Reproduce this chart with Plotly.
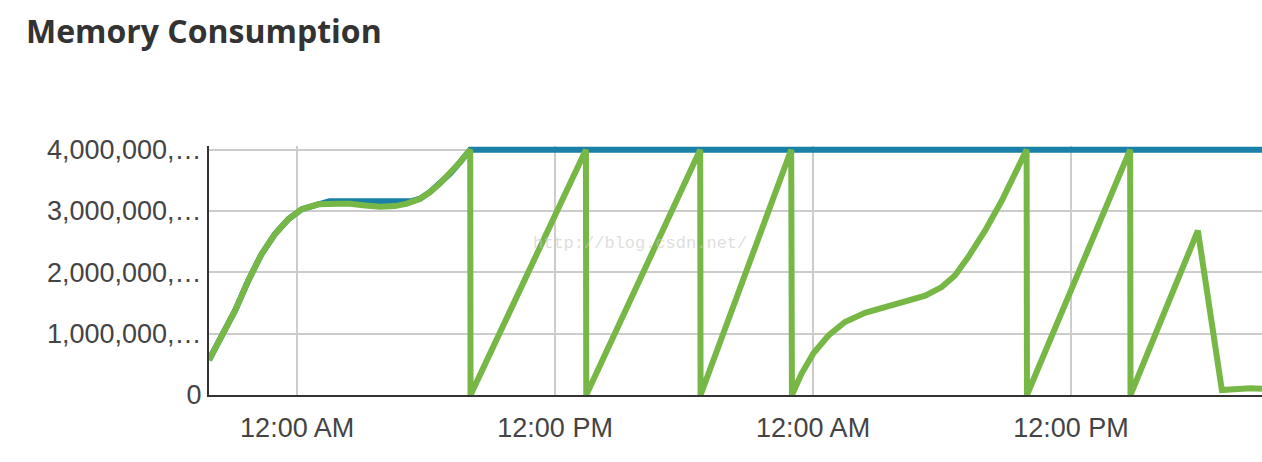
import plotly.graph_objects as go

# values (bytes), times on an arbitrary two-day window
green_times = [
    "2016-01-01 19:54", "2016-01-01 20:30", "2016-01-01 21:07", "2016-01-01 21:44",
    "2016-01-01 22:21", "2016-01-01 22:59", "2016-01-01 23:36", "2016-01-02 00:13",
    "2016-01-02 00:59", "2016-01-02 01:55", "2016-01-02 02:28", "2016-01-02 03:10",
    "2016-01-02 03:52", "2016-01-02 04:33", "2016-01-02 05:07", "2016-01-02 05:43",
    "2016-01-02 06:11", "2016-01-02 06:39", "2016-01-02 07:07", "2016-01-02 07:35",
    "2016-01-02 08:03",
    "2016-01-02 08:04", "2016-01-02 13:26",
    "2016-01-02 13:27", "2016-01-02 18:45",
    "2016-01-02 18:46", "2016-01-02 22:59",
    "2016-01-02 23:01", "2016-01-02 23:28", "2016-01-03 00:01", "2016-01-03 00:43",
    "2016-01-03 01:29", "2016-01-03 02:25", "2016-01-03 03:21", "2016-01-03 04:17",
    "2016-01-03 05:13", "2016-01-03 05:59", "2016-01-03 06:36", "2016-01-03 07:13",
    "2016-01-03 08:00", "2016-01-03 08:47", "2016-01-03 09:33", "2016-01-03 09:56",
    "2016-01-03 09:57", "2016-01-03 14:45",
    "2016-01-03 14:46", "2016-01-03 17:54", "2016-01-03 19:01", "2016-01-03 19:40",
    "2016-01-03 20:20", "2016-01-03 20:53",
]
green_values = [
    570000, 950000, 1380000, 1870000,
    2300000, 2630000, 2870000, 3030000,
    3110000, 3120000, 3120000, 3090000,
    3070000, 3080000, 3120000, 3200000,
    3310000, 3450000, 3610000, 3800000,
    4000000,
    0, 4000000,
    0, 4000000,
    0, 4000000,
    0, 350000, 680000, 970000,
    1190000, 1340000, 1430000, 1510000,
    1620000, 1760000, 1950000, 2250000,
    2680000, 3170000, 3710000, 4000000,
    0, 4000000,
    0, 2680000, 80000, 100000,
    110000, 100000,
]

blue_times = [
    "2016-01-01 19:54", "2016-01-01 20:30", "2016-01-01 21:07", "2016-01-01 21:44",
    "2016-01-01 22:21", "2016-01-01 22:59", "2016-01-01 23:36", "2016-01-02 00:13",
    "2016-01-02 00:59", "2016-01-02 01:30", "2016-01-02 05:20", "2016-01-02 05:43",
    "2016-01-02 06:11", "2016-01-02 06:39", "2016-01-02 07:07", "2016-01-02 07:35",
    "2016-01-02 08:03", "2016-01-03 20:53",
]
blue_values = [
    570000, 950000, 1380000, 1870000,
    2300000, 2630000, 2870000, 3030000,
    3110000, 3160000, 3160000, 3200000,
    3310000, 3450000, 3610000, 3800000,
    4000000, 4000000,
]

y_ticks = [0, 1000000, 2000000, 3000000, 4000000]
y_tick_text = ["0", "1,000,000,…", "2,000,000,…", "3,000,000,…", "4,000,000,…"]

fig = go.Figure()
fig.add_trace(go.Scatter(x=blue_times, y=blue_values, mode="lines",
                         line=dict(color="#1a80a8", width=6), showlegend=False))
fig.add_trace(go.Scatter(x=green_times, y=green_values, mode="lines",
                         line=dict(color="#77b745", width=6), showlegend=False))

fig.update_layout(
    width=1262, height=462,
    margin=dict(l=209, r=0, t=146, b=67, autoexpand=False),
    paper_bgcolor="white", plot_bgcolor="white",
    title=dict(text="Memory Consumption", x=26 / 1262, xanchor="left",
               y=1 - 32 / 462, yanchor="middle",
               font=dict(family="Open Sans", size=32, color="#333333", weight="bold")),
    font=dict(family="Liberation Sans, Arial", size=27, color="#444444"),
    annotations=[dict(text="http://blog.csdn.net/", xref="paper", yref="paper",
                      x=(640 - 209) / 1053, y=(395 - 243) / 249, showarrow=False,
                      font=dict(family="Liberation Mono", size=17,
                                color="rgba(200,200,200,0.6)"))],
)
fig.update_xaxes(
    range=["2016-01-01 19:54", "2016-01-03 20:53"],
    tick0="2016-01-02 00:00", dtick=12 * 3600 * 1000, tickformat="%I:%M %p",
    showgrid=True, gridcolor="#cccccc", gridwidth=2,
    showline=True, linecolor="#333333", linewidth=2, zeroline=False,
    automargin=False, ticklabelstandoff=8,
)
fig.update_yaxes(
    range=[0, 4060000], tickvals=y_ticks, ticktext=y_tick_text,
    showgrid=True, gridcolor="#cccccc", gridwidth=2,
    showline=True, linecolor="#333333", linewidth=2, zeroline=False,
    automargin=False,
)

# drop the default page margin so the figure fills the window exactly
fig.write_html("out.html", config={"displayModeBar": False},
               post_script="document.body.style.margin='0';"
                           "document.body.style.overflow='hidden';")
